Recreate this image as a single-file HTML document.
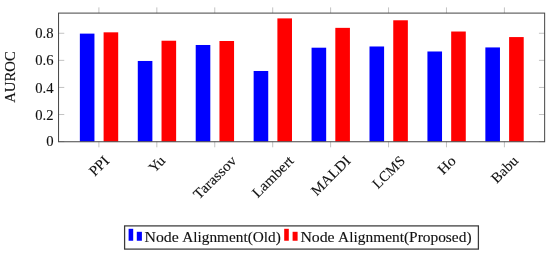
<!DOCTYPE html>
<html lang="en"><head><meta charset="utf-8"><title>AUROC bar chart</title>
<style>html,body{margin:0;padding:0;background:#fff;overflow:hidden}svg{display:block}text{font-family:"Liberation Serif", "DejaVu Serif", serif;font-size:14.5px;fill:#111;stroke:#111;stroke-width:0.12px}</style></head><body>
<svg width="550" height="254" viewBox="0 0 550 254">
<rect x="0" y="0" width="550" height="254" fill="#ffffff"/>
<rect x="79.85" y="33.62" width="14.60" height="107.98" fill="#0000ff"/>
<rect x="103.60" y="32.33" width="14.60" height="109.27" fill="#ff0000"/>
<rect x="137.78" y="60.97" width="14.60" height="80.63" fill="#0000ff"/>
<rect x="161.53" y="40.73" width="14.60" height="100.87" fill="#ff0000"/>
<rect x="195.71" y="44.99" width="14.60" height="96.61" fill="#0000ff"/>
<rect x="219.46" y="41.00" width="14.60" height="100.60" fill="#ff0000"/>
<rect x="253.64" y="70.99" width="14.60" height="70.61" fill="#0000ff"/>
<rect x="277.39" y="18.39" width="14.60" height="123.21" fill="#ff0000"/>
<rect x="311.57" y="47.70" width="14.60" height="93.90" fill="#0000ff"/>
<rect x="335.32" y="27.86" width="14.60" height="113.74" fill="#ff0000"/>
<rect x="369.50" y="46.48" width="14.60" height="95.12" fill="#0000ff"/>
<rect x="393.25" y="20.28" width="14.60" height="121.32" fill="#ff0000"/>
<rect x="427.43" y="51.49" width="14.60" height="90.11" fill="#0000ff"/>
<rect x="451.18" y="31.52" width="14.60" height="110.08" fill="#ff0000"/>
<rect x="485.36" y="47.43" width="14.60" height="94.17" fill="#0000ff"/>
<rect x="509.11" y="37.07" width="14.60" height="104.53" fill="#ff0000"/>
<path d="M98.90 141.60v5.7M98.90 13.10v-5.7M156.83 141.60v5.7M156.83 13.10v-5.7M214.76 141.60v5.7M214.76 13.10v-5.7M272.69 141.60v5.7M272.69 13.10v-5.7M330.62 141.60v5.7M330.62 13.10v-5.7M388.55 141.60v5.7M388.55 13.10v-5.7M446.48 141.60v5.7M446.48 13.10v-5.7M504.41 141.60v5.7M504.41 13.10v-5.7M58.55 141.60h5.7M544.65 141.60h-5.7M58.55 114.52h5.7M544.65 114.52h-5.7M58.55 87.44h5.7M544.65 87.44h-5.7M58.55 60.36h5.7M544.65 60.36h-5.7M58.55 33.28h5.7M544.65 33.28h-5.7" stroke="#9a9a9a" stroke-width="0.6" fill="none"/>
<rect x="58.55" y="13.10" width="486.10" height="128.65" fill="none" stroke="#444444" stroke-width="1"/>
<text x="46.20" y="146.40" textLength="7.35" lengthAdjust="spacingAndGlyphs">0</text>
<text x="35.29" y="119.62" textLength="18.26" lengthAdjust="spacingAndGlyphs">0.2</text>
<text x="35.29" y="92.54" textLength="18.26" lengthAdjust="spacingAndGlyphs">0.4</text>
<text x="35.29" y="65.46" textLength="18.26" lengthAdjust="spacingAndGlyphs">0.6</text>
<text x="35.29" y="38.38" textLength="18.26" lengthAdjust="spacingAndGlyphs">0.8</text>
<text transform="translate(15.4 102.83) rotate(-90)" textLength="51.66" lengthAdjust="spacingAndGlyphs">AUROC</text>
<text transform="translate(94.75 176.85) rotate(-45)" textLength="21.46" lengthAdjust="spacingAndGlyphs">PPI</text>
<text transform="translate(154.33 173.56) rotate(-45)" textLength="16.81" lengthAdjust="spacingAndGlyphs">Yu</text>
<text transform="translate(199.06 199.95) rotate(-45)" textLength="54.13" lengthAdjust="spacingAndGlyphs">Tarassov</text>
<text transform="translate(257.73 198.48) rotate(-45)" textLength="52.05" lengthAdjust="spacingAndGlyphs">Lambert</text>
<text transform="translate(316.67 196.45) rotate(-45)" textLength="49.18" lengthAdjust="spacingAndGlyphs">MALDI</text>
<text transform="translate(378.10 189.44) rotate(-45)" textLength="39.27" lengthAdjust="spacingAndGlyphs">LCMS</text>
<text transform="translate(443.15 175.21) rotate(-45)" textLength="19.14" lengthAdjust="spacingAndGlyphs">Ho</text>
<text transform="translate(496.71 183.94) rotate(-45)" textLength="31.49" lengthAdjust="spacingAndGlyphs">Babu</text>
<rect x="124.6" y="225.9" width="353.8" height="23.2" fill="#fff" stroke="#3a3a3a" stroke-width="1.25"/>
<rect x="128.6" y="228.8" width="4.6" height="11.95" fill="#0000ff"/>
<rect x="136.8" y="231.8" width="5.1" height="8.95" fill="#0000ff"/>
<text y="241.60"><tspan x="144.50" textLength="34.27" lengthAdjust="spacingAndGlyphs">Node</tspan> <tspan x="182.24" textLength="98.58" lengthAdjust="spacingAndGlyphs">Alignment(Old)</tspan></text>
<rect x="284.2" y="228.8" width="4.6" height="11.95" fill="#ff0000"/>
<rect x="292.6" y="231.8" width="5.0" height="8.95" fill="#ff0000"/>
<text y="241.60"><tspan x="300.40" textLength="34.27" lengthAdjust="spacingAndGlyphs">Node</tspan> <tspan x="338.14" textLength="133.40" lengthAdjust="spacingAndGlyphs">Alignment(Proposed)</tspan></text>
</svg></body></html>
